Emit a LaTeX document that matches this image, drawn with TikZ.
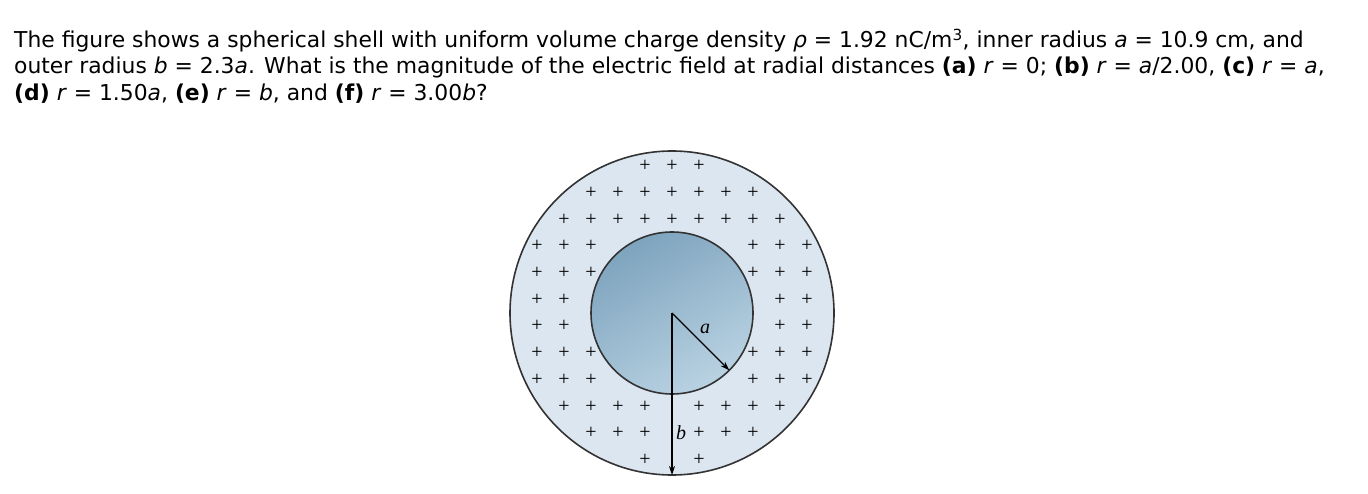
\documentclass[tikz,border=0pt]{standalone}
\usepackage{fontspec}
\usetikzlibrary{calc,arrows.meta}
\setmainfont{DejaVu Sans}
\newfontfamily\figfont{Liberation Serif}
\definecolor{shell}{HTML}{DCE6F1}
\definecolor{coreA}{HTML}{7EA4BE}
\definecolor{coreB}{HTML}{B9D2E2}
\begin{document}
\begin{tikzpicture}[x=1pt,y=-1pt,
  txt/.style={anchor=base west,inner sep=0pt,font=\fontsize{21.85}{24}\selectfont},
  pl/.style={font=\figfont\fontsize{20}{20}\selectfont,inner sep=0pt},
  arr/.style={-{Stealth[length=9pt,width=6pt]},line width=1.3pt}]
\useasboundingbox (0,0) rectangle (1368,494);
\node[txt] (l1) at (14,48) {The figure shows a spherical shell with uniform volume charge density \textit{ρ} = 1.92 nC/m\textsuperscript{3}, inner radius \textit{a} = 10.9 cm, and};
\node[txt] (l2) at (14,74) {outer radius \textit{b} = 2.3\textit{a}. What is the magnitude of the electric field at radial distances \textbf{(a)} \textit{r} = 0; \textbf{(b)} \textit{r} = \textit{a}/2.00, \textbf{(c)} \textit{r} = \textit{a},};
\node[txt] (l3) at (14,101) {\textbf{(d)} \textit{r} = 1.50\textit{a}, \textbf{(e)} \textit{r} = \textit{b}, and \textbf{(f)} \textit{r} = 3.00\textit{b}?};
\coordinate (c) at (672,313);
\fill[shell] (c) circle (162);
\foreach \j/\list in {0/{-1,0,1},1/{-3,-2,-1,0,1,2,3},2/{-4,-3,-2,-1,0,1,2,3,4},3/{-5,-4,-3,3,4,5},4/{-5,-4,-3,3,4,5},5/{-5,-4,4,5},6/{-5,-4,4,5},7/{-5,-4,-3,3,4,5},8/{-5,-4,-3,3,4,5},9/{-4,-3,-2,-1,1,2,3,4},10/{-3,-2,-1,1,2,3},11/{-1,1}}
  \foreach \i in \list
    \node[pl] at ($(c)+(27*\i,{26.7*(\j-5.5)})$) {+};
\draw[line width=1.6pt,black!80] (c) circle (162);
\shade[top color=coreA,bottom color=coreB,shading angle=30,draw=black!80,line width=1.6pt] (c) circle (81);
\coordinate (ea) at ($(c)+(45:81)$);
\coordinate (eb) at ($(c)+(0,162)$);
\draw[arr] (c) -- (ea);
\draw[arr] (c) -- (eb);
\node[font=\figfont\itshape\fontsize{20}{20}\selectfont] (la) at (705,329) {a};
\node[font=\figfont\itshape\fontsize{20}{20}\selectfont] (lb) at (681,433) {b};
\end{tikzpicture}
\end{document}
